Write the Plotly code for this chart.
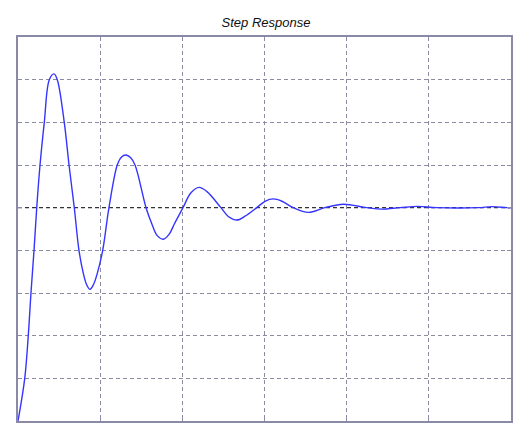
import plotly.graph_objects as go

# time (s) and step response amplitude
time = [0, 0.082, 0.125, 0.158, 0.195, 0.228, 0.268, 0.320, 0.381, 0.438,
        0.478, 0.563, 0.621, 0.685, 0.742, 0.795, 0.834, 0.876, 0.919, 0.965,
        1.031, 1.107, 1.208, 1.260, 1.314, 1.369, 1.424, 1.558, 1.627, 1.692,
        1.768, 1.838, 1.911, 2.008, 2.105, 2.203, 2.300, 2.470, 2.556, 2.662,
        2.763, 2.905, 3.006, 3.107, 3.213, 3.350, 3.533, 3.736, 3.959, 4.244,
        4.426, 4.649, 4.868, 5.099, 5.598, 5.769, 5.951, 6.0]
amplitude = [0, 0.2, 0.4, 0.6, 0.8, 1.0, 1.2, 1.4, 1.6, 1.627,
             1.6, 1.4, 1.2, 1.0, 0.8, 0.692, 0.64, 0.617, 0.64, 0.692,
             0.8, 1.0, 1.2, 1.238, 1.247, 1.235, 1.2, 1.0, 0.926, 0.87,
             0.852, 0.875, 0.93, 1.0, 1.07, 1.095, 1.075, 1.0, 0.96, 0.942,
             0.96, 1.0, 1.03, 1.041, 1.03, 1.0, 0.978, 1.0, 1.016, 1.0,
             0.993, 1.0, 1.006, 1.0, 1.0, 1.005, 1.0, 1.0]
steady_time = [0, 6]
steady_value = [1.0, 1.0]

axis_col = "#8a8aa6"
grid_col = "#8c8ca0"
grid_dash = "4px,3px"

fig = go.Figure()
fig.add_trace(go.Scatter(x=steady_time, y=steady_value, mode="lines",
                         line=dict(color="#333333", width=1.2, dash=grid_dash),
                         hoverinfo="skip", showlegend=False))
fig.add_trace(go.Scatter(x=time, y=amplitude, mode="lines",
                         line=dict(color="#3535ff", width=1.4, shape="spline", smoothing=1.0),
                         showlegend=False))

# page body has an 8px default margin; sizes compensate for it
fig.update_layout(
    width=516, height=426,
    margin=dict(l=10, r=13, t=29, b=13),
    paper_bgcolor="white", plot_bgcolor="white",
    title=dict(text="<i>Step Response</i>", x=0.5, xanchor="center",
               y=1 - 14 / 426, yanchor="middle",
               font=dict(family="Liberation Sans, Arial, sans-serif", size=13, color="#111111")),
    xaxis=dict(range=[0, 6], dtick=1, showticklabels=False,
               showgrid=True, gridcolor=grid_col, griddash=grid_dash, gridwidth=1.2,
               showline=True, linecolor=axis_col, linewidth=1.5, mirror="ticks",
               ticks="inside", ticklen=4, tickcolor=axis_col, zeroline=False),
    yaxis=dict(range=[0, 1.8], dtick=0.2, showticklabels=False,
               showgrid=True, gridcolor=grid_col, griddash=grid_dash, gridwidth=1.2,
               showline=True, linecolor=axis_col, linewidth=1.5, mirror="ticks",
               ticks="inside", ticklen=4, tickcolor=axis_col, zeroline=False),
)

fig.write_html("out.html")
